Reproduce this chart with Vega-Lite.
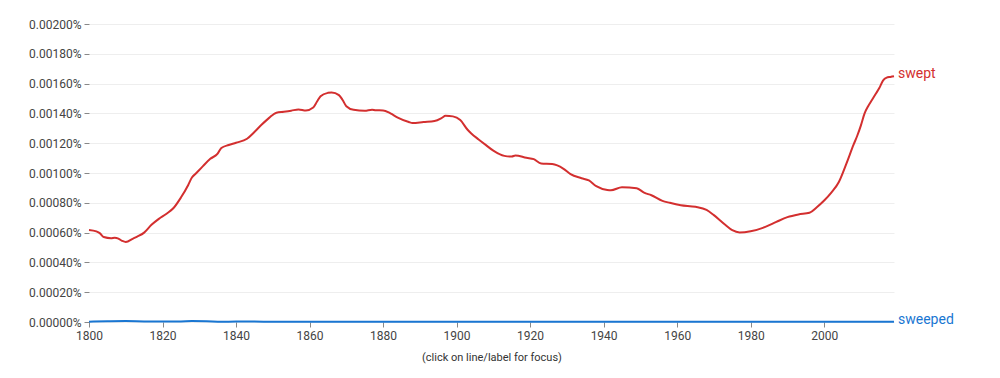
{
  "$schema": "https://vega.github.io/schema/vega-lite/v6.json",
  "autosize": {"type": "none"},
  "width": 805,
  "height": 298,
  "padding": {"left": 89, "top": 24, "right": 106, "bottom": 56},
  "background": "white",
  "config": {
    "view": {"stroke": null},
    "font": "Roboto"
  },
  "datasets": {
    "swept": [
      {"year": 1800, "value": 0.000618}, {"year": 1802, "value": 0.000608}, {"year": 1803, "value": 0.000595},
      {"year": 1804, "value": 0.000570}, {"year": 1806, "value": 0.000562}, {"year": 1807, "value": 0.000566},
      {"year": 1808, "value": 0.000560}, {"year": 1809, "value": 0.000545}, {"year": 1810, "value": 0.000537},
      {"year": 1812, "value": 0.000560}, {"year": 1813, "value": 0.000572}, {"year": 1815, "value": 0.000600},
      {"year": 1817, "value": 0.000652}, {"year": 1819, "value": 0.000692}, {"year": 1821, "value": 0.000725},
      {"year": 1823, "value": 0.000765}, {"year": 1825, "value": 0.000835}, {"year": 1827, "value": 0.000920},
      {"year": 1828, "value": 0.000970}, {"year": 1829, "value": 0.000995}, {"year": 1831, "value": 0.001046},
      {"year": 1833, "value": 0.001095}, {"year": 1835, "value": 0.001130}, {"year": 1836, "value": 0.001168},
      {"year": 1838, "value": 0.001188}, {"year": 1840, "value": 0.001203}, {"year": 1843, "value": 0.001230},
      {"year": 1845, "value": 0.001275}, {"year": 1847, "value": 0.001325}, {"year": 1849, "value": 0.001370},
      {"year": 1851, "value": 0.001405}, {"year": 1853, "value": 0.001411}, {"year": 1855, "value": 0.001418},
      {"year": 1857, "value": 0.001427}, {"year": 1859, "value": 0.001420}, {"year": 1861, "value": 0.001440},
      {"year": 1862, "value": 0.001478}, {"year": 1863, "value": 0.001515}, {"year": 1865, "value": 0.001538},
      {"year": 1866, "value": 0.001541}, {"year": 1868, "value": 0.001523}, {"year": 1869, "value": 0.001490},
      {"year": 1870, "value": 0.001448}, {"year": 1872, "value": 0.001424}, {"year": 1875, "value": 0.001418},
      {"year": 1877, "value": 0.001425}, {"year": 1878, "value": 0.001421}, {"year": 1880, "value": 0.001420},
      {"year": 1882, "value": 0.001400}, {"year": 1884, "value": 0.001372}, {"year": 1887, "value": 0.001342},
      {"year": 1888, "value": 0.001335}, {"year": 1891, "value": 0.001342}, {"year": 1894, "value": 0.001349},
      {"year": 1896, "value": 0.001370}, {"year": 1897, "value": 0.001384}, {"year": 1899, "value": 0.001380},
      {"year": 1901, "value": 0.001355}, {"year": 1903, "value": 0.001290}, {"year": 1904, "value": 0.001265},
      {"year": 1906, "value": 0.001225}, {"year": 1908, "value": 0.001187}, {"year": 1910, "value": 0.001150},
      {"year": 1913, "value": 0.001115}, {"year": 1915, "value": 0.001110}, {"year": 1916, "value": 0.001118},
      {"year": 1919, "value": 0.001102}, {"year": 1921, "value": 0.001093}, {"year": 1923, "value": 0.001064},
      {"year": 1926, "value": 0.001060}, {"year": 1929, "value": 0.001030}, {"year": 1931, "value": 0.000992},
      {"year": 1934, "value": 0.000965}, {"year": 1936, "value": 0.000950}, {"year": 1938, "value": 0.000912},
      {"year": 1941, "value": 0.000886}, {"year": 1942, "value": 0.000884}, {"year": 1945, "value": 0.000905},
      {"year": 1949, "value": 0.000898}, {"year": 1951, "value": 0.000868}, {"year": 1953, "value": 0.000851},
      {"year": 1956, "value": 0.000813}, {"year": 1958, "value": 0.000800}, {"year": 1961, "value": 0.000784},
      {"year": 1965, "value": 0.000773}, {"year": 1968, "value": 0.000752}, {"year": 1970, "value": 0.000717},
      {"year": 1973, "value": 0.000654}, {"year": 1975, "value": 0.000616}, {"year": 1977, "value": 0.000601},
      {"year": 1980, "value": 0.000609}, {"year": 1984, "value": 0.000638}, {"year": 1987, "value": 0.000672},
      {"year": 1990, "value": 0.000704}, {"year": 1993, "value": 0.000722}, {"year": 1996, "value": 0.000733},
      {"year": 1998, "value": 0.000770}, {"year": 2000, "value": 0.000815}, {"year": 2002, "value": 0.000870},
      {"year": 2004, "value": 0.000940}, {"year": 2006, "value": 0.001060}, {"year": 2008, "value": 0.001190},
      {"year": 2009, "value": 0.001250}, {"year": 2010, "value": 0.001320}, {"year": 2011, "value": 0.001400},
      {"year": 2012, "value": 0.001450}, {"year": 2013, "value": 0.001490}, {"year": 2014, "value": 0.001530},
      {"year": 2015, "value": 0.001570}, {"year": 2016, "value": 0.001620}, {"year": 2017, "value": 0.001640},
      {"year": 2018, "value": 0.001645}, {"year": 2019, "value": 0.001650}
    ],
    "sweeped": [
      {"year": 1800, "value": 0.000002}, {"year": 1805, "value": 0.000005}, {"year": 1810, "value": 0.000006},
      {"year": 1815, "value": 0.000004}, {"year": 1820, "value": 0.000003}, {"year": 1825, "value": 0.000004},
      {"year": 1828, "value": 0.000006}, {"year": 1832, "value": 0.000005}, {"year": 1836, "value": 0.000002},
      {"year": 1840, "value": 0.000003}, {"year": 1845, "value": 0.000003}, {"year": 1850, "value": 0.000002},
      {"year": 1860, "value": 0.000002}, {"year": 1870, "value": 0.000002}, {"year": 1880, "value": 0.000002},
      {"year": 1890, "value": 0.000002}, {"year": 1900, "value": 0.000001}, {"year": 1920, "value": 0.000001},
      {"year": 1940, "value": 0.000001}, {"year": 1965, "value": 0.000002}, {"year": 1980, "value": 0.000001},
      {"year": 1992, "value": 0.000002}, {"year": 2005, "value": 0.000001}, {"year": 2019, "value": 0.000001}
    ]
  },
  "encoding": {
    "x": {
      "field": "year", "type": "quantitative",
      "scale": {"domain": [1800, 2019], "nice": false, "zero": false},
      "axis": {
        "values": [1800, 1820, 1840, 1860, 1880, 1900, 1920, 1940, 1960, 1980, 2000],
        "format": "d", "grid": false, "domain": false, "labelFlush": false, "labelOverlap": false,
        "tickColor": "#888", "tickSize": 5, "labelPadding": 3,
        "labelFont": "Roboto", "labelFontSize": 12, "labelColor": "#444",
        "title": "(click on line/label for focus)",
        "titleFont": "Roboto", "titleFontSize": 11, "titleFontWeight": "normal",
        "titleColor": "#333", "titlePadding": 10
      }
    },
    "y": {
      "field": "value", "type": "quantitative",
      "scale": {"domain": [0, 0.002], "nice": false},
      "axis": {
        "values": [0, 0.0002, 0.0004, 0.0006, 0.0008, 0.001, 0.0012, 0.0014, 0.0016, 0.0018, 0.002],
        "labelExpr": "format(datum.value, '.5f') + '%'",
        "labelOverlap": false, "labelFlush": false,
        "grid": true, "gridColor": "#eeeeee", "gridWidth": 1,
        "domain": false, "tickColor": "#888", "tickSize": 5, "labelPadding": 3,
        "labelFont": "Roboto", "labelFontSize": 12, "labelColor": "#444",
        "title": null
      }
    }
  },
  "layer": [
    {
      "data": {"name": "swept"},
      "mark": {"type": "line", "color": "#d32f2f", "strokeWidth": 2, "interpolate": "monotone"}
    },
    {
      "data": {"name": "sweeped"},
      "mark": {"type": "line", "color": "#1976d2", "strokeWidth": 2, "interpolate": "monotone"}
    },
    {
      "data": {"values": [
        {"year": 2019, "value": 0.00165, "word": "swept"},
        {"year": 2019, "value": 0.000001, "word": "sweeped"}
      ]},
      "mark": {"type": "text", "align": "left", "baseline": "middle", "dx": 4, "dy": -2, "fontSize": 14, "font": "Roboto"},
      "encoding": {
        "text": {"field": "word"},
        "color": {
          "field": "word", "type": "nominal",
          "scale": {"domain": ["swept", "sweeped"], "range": ["#d32f2f", "#1976d2"]},
          "legend": null
        }
      }
    }
  ]
}
